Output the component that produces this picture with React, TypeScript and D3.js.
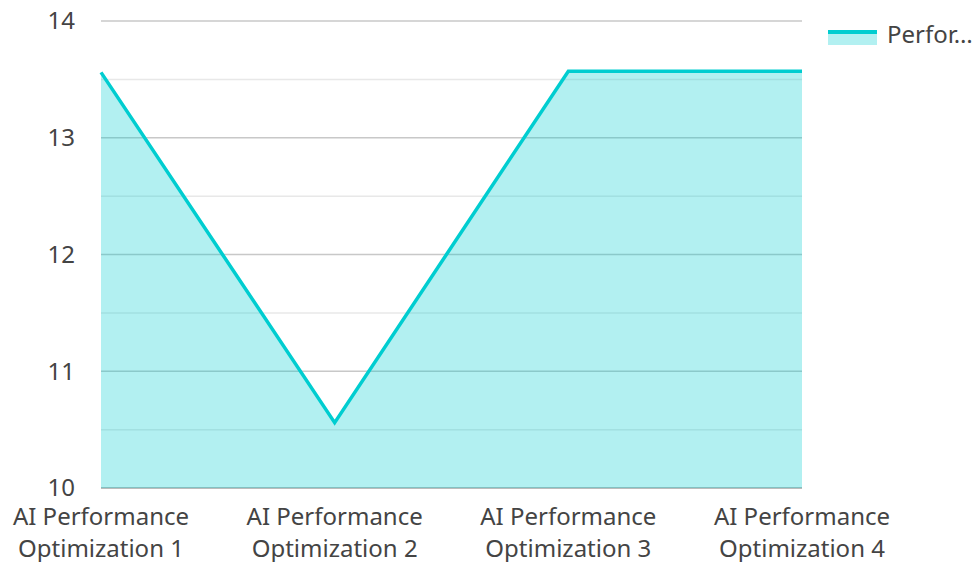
import React, { useEffect, useRef } from "react";
import * as d3 from "d3";

const categories = [
  "AI Performance Optimization 1",
  "AI Performance Optimization 2",
  "AI Performance Optimization 3",
  "AI Performance Optimization 4",
];
const values = [13.56, 10.56, 13.57, 13.57];
const yTicks = [10, 11, 12, 13, 14];
const yMinorTicks = [10.5, 11.5, 12.5, 13.5];
const seriesName = "Performance";

const theme = {
  line: "#00cdd0",
  fill: "rgba(0, 205, 208, 0.3)",
  gridMajor: "#c8c8c8",
  gridMinor: "#e8e8e8",
  text: "#444444",
  font: "'Noto Sans', sans-serif",
};

const App = () => {
  const svgRef = useRef<SVGSVGElement | null>(null);

  useEffect(() => {
    const width = 976;
    const height = 562;
    const svg = d3.select(svgRef.current);
    svg.selectAll("*").remove();
    svg.attr("width", width).attr("height", height);

    const x = d3.scalePoint<string>().domain(categories).range([101, 802]);
    const y = d3.scaleLinear().domain([10, 14]).range([488, 21]);

    // grid lines (fill goes over them)
    svg
      .append("g")
      .selectAll("line")
      .data(yMinorTicks)
      .enter()
      .append("line")
      .attr("x1", 101)
      .attr("x2", 802)
      .attr("y1", (d) => y(d))
      .attr("y2", (d) => y(d))
      .attr("stroke", theme.gridMinor)
      .attr("stroke-width", 1.5);

    svg
      .append("g")
      .selectAll("line")
      .data(yTicks)
      .enter()
      .append("line")
      .attr("x1", 101)
      .attr("x2", 802)
      .attr("y1", (d) => y(d))
      .attr("y2", (d) => y(d))
      .attr("stroke", (d) => (d === 10 ? "#bbbbbb" : theme.gridMajor))
      .attr("stroke-width", (d) => (d === 10 ? 2 : 1.5));

    // area under the line
    const area = d3
      .area<number>()
      .x((d, i) => x(categories[i]) as number)
      .y0(y(10))
      .y1((d) => y(d));
    svg.append("path").attr("d", area(values)).attr("fill", theme.fill);

    // line
    const line = d3
      .line<number>()
      .x((d, i) => x(categories[i]) as number)
      .y((d) => y(d));
    svg
      .append("path")
      .attr("d", line(values))
      .attr("fill", "none")
      .attr("stroke", theme.line)
      .attr("stroke-width", 3.5)
      .attr("stroke-linejoin", "miter");

    // y tick labels
    svg
      .append("g")
      .selectAll("text")
      .data(yTicks)
      .enter()
      .append("text")
      .attr("x", 75)
      .attr("y", (d) => y(d))
      .attr("dy", "0.35em")
      .attr("text-anchor", "end")
      .attr("fill", theme.text)
      .style("font-family", theme.font)
      .style("font-size", "24px")
      .text((d) => d);

    // x labels (two lines)
    const xl = svg
      .append("g")
      .selectAll("text")
      .data(categories)
      .enter()
      .append("text")
      .attr("x", (d) => x(d) as number)
      .attr("y", 525)
      .attr("text-anchor", "middle")
      .attr("fill", theme.text)
      .style("font-family", theme.font)
      .style("font-size", "24px");
    xl.append("tspan")
      .attr("x", (d) => x(d) as number)
      .text((d) => d.split(" ").slice(0, 2).join(" "));
    xl.append("tspan")
      .attr("x", (d) => x(d) as number)
      .attr("dy", 32)
      .text((d) => d.split(" ").slice(2).join(" "));

    // legend
    const lg = svg.append("g").attr("transform", "translate(828,30)");
    lg.append("rect").attr("width", 49).attr("height", 15).attr("fill", theme.fill);
    lg.append("rect").attr("width", 49).attr("height", 4).attr("fill", theme.line);
    lg.append("text")
      .attr("x", 59)
      .attr("y", 5)
      .attr("dy", "0.35em")
      .attr("fill", theme.text)
      .style("font-family", theme.font)
      .style("font-size", "24px")
      .text(seriesName.slice(0, 6) + "…");
  }, []);

  return (
    <svg
      ref={svgRef}
      style={{ position: "absolute", left: 0, top: 0, background: "#fff" }}
    ></svg>
  );
};

export default App;
